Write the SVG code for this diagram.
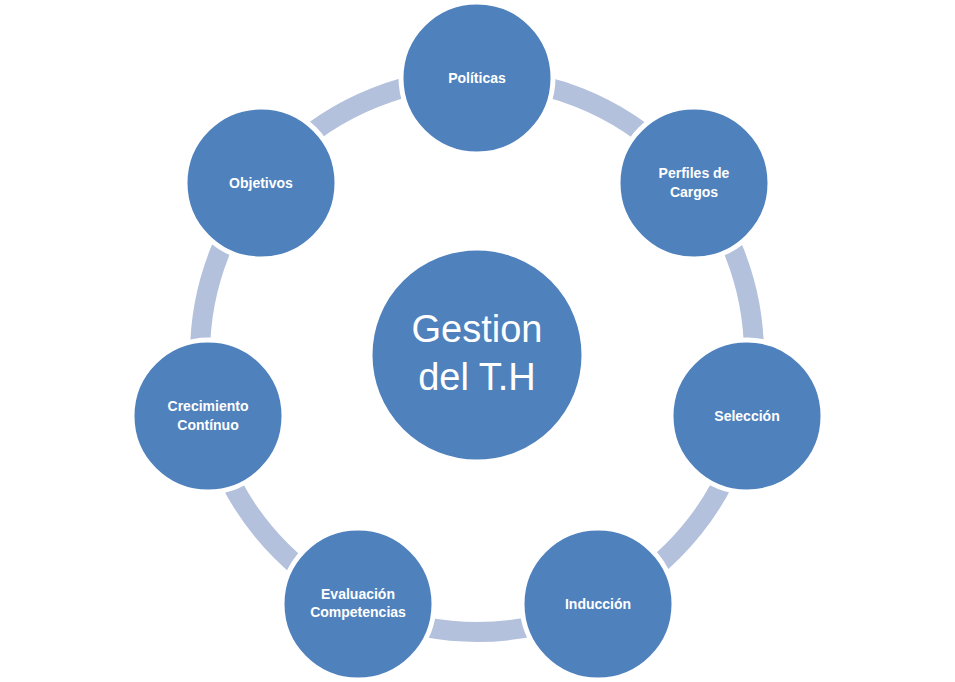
<svg xmlns="http://www.w3.org/2000/svg" width="955" height="682" viewBox="0 0 955 682">
<style>
.n{fill:#4F81BD;stroke:#fff;stroke-width:5}
.t{fill:#fff;font-family:"Liberation Sans",Arial,sans-serif;font-weight:bold;font-size:14px;text-anchor:middle}
.c{fill:#fff;font-family:"Liberation Sans",Arial,sans-serif;font-size:38px;text-anchor:middle}
</style>
<rect width="955" height="682" fill="#fff"/>
<g id="connectors"><circle cx="477" cy="355" r="277" fill="none" stroke="#B3C1DC" stroke-width="20"/></g>
<g id="center"><circle class="n" cx="477" cy="355" r="107"/><text class="c" x="477" y="342">Gestion</text><text class="c" x="477" y="390">del T.H</text></g>
<g id="politicas"><circle class="n" cx="477" cy="78" r="76"/><text class="t" x="477" y="83">Políticas</text></g>
<g id="perfiles"><circle class="n" cx="694" cy="183" r="76"/><text class="t" x="694" y="178">Perfiles de</text><text class="t" x="694" y="197">Cargos</text></g>
<g id="seleccion"><circle class="n" cx="747" cy="416" r="76"/><text class="t" x="747" y="421">Selección</text></g>
<g id="induccion"><circle class="n" cx="598" cy="604" r="76"/><text class="t" x="598" y="609">Inducción</text></g>
<g id="evaluacion"><circle class="n" cx="358" cy="604" r="76"/><text class="t" x="358" y="599">Evaluación</text><text class="t" x="358" y="617">Competencias</text></g>
<g id="crecimiento"><circle class="n" cx="208" cy="416" r="76"/><text class="t" x="208" y="411">Crecimiento</text><text class="t" x="208" y="430">Contínuo</text></g>
<g id="objetivos"><circle class="n" cx="261" cy="183" r="76"/><text class="t" x="261" y="188">Objetivos</text></g>
</svg>
